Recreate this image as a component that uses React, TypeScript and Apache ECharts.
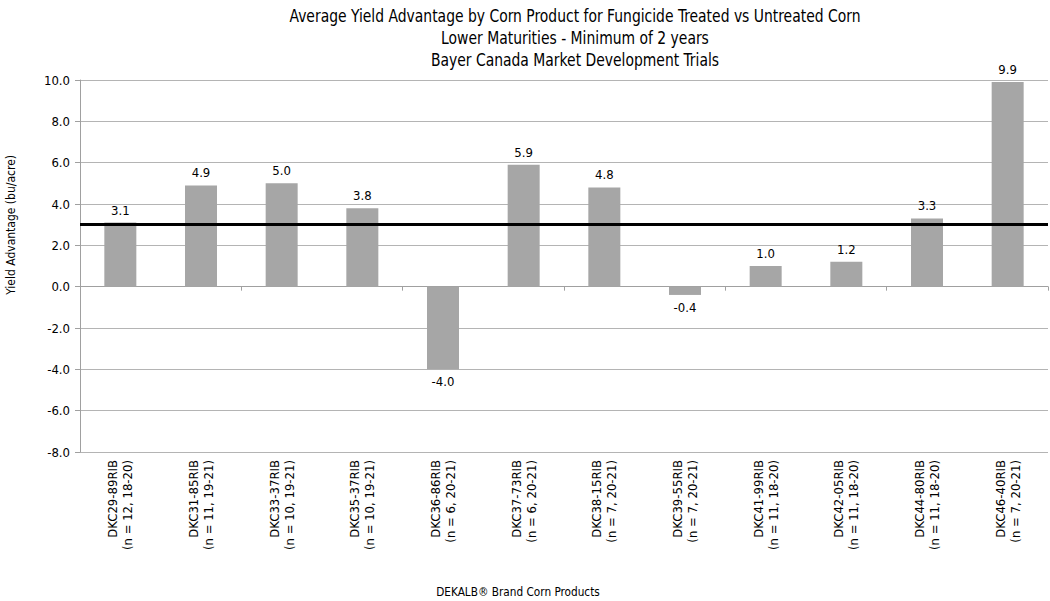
import React, { useEffect, useRef } from "react";
import * as echarts from "echarts";

const products = [
  "DKC29-89RIB\n(n = 12, 18-20)",
  "DKC31-85RIB\n(n = 11, 19-21)",
  "DKC33-37RIB\n(n = 10, 19-21)",
  "DKC35-37RIB\n(n = 10, 19-21)",
  "DKC36-86RIB\n(n = 6, 20-21)",
  "DKC37-73RIB\n(n = 6, 20-21)",
  "DKC38-15RIB\n(n = 7, 20-21)",
  "DKC39-55RIB\n(n = 7, 20-21)",
  "DKC41-99RIB\n(n = 11, 18-20)",
  "DKC42-05RIB\n(n = 11, 18-20)",
  "DKC44-80RIB\n(n = 11, 18-20)",
  "DKC46-40RIB\n(n = 7, 20-21)",
];
const yieldAdvantage = [3.1, 4.9, 5.0, 3.8, -4.0, 5.9, 4.8, -0.4, 1.0, 1.2, 3.3, 9.9];
const referenceValue = 3.0;
const titleLines = [
  "Average Yield Advantage by Corn Product for Fungicide Treated vs Untreated Corn",
  "Lower Maturities - Minimum of 2 years",
  "Bayer Canada Market Development Trials",
];
const yAxisTitle = "Yield Advantage (bu/acre)";
const xAxisTitle = "DEKALB® Brand Corn Products";

const FONT = "'Liberation Sans Narrow', 'DejaVu Sans Condensed', 'Roboto', sans-serif";

export default function App() {
  const ref = useRef<HTMLDivElement>(null);
  useEffect(() => {
    if (!ref.current) return;
    const chart = echarts.init(ref.current, undefined, { renderer: "svg" });
    chart.setOption({
      animation: false,
      backgroundColor: "#ffffff",
      textStyle: { fontFamily: FONT, color: "#000" },
      grid: { left: 80, right: 2, top: 80, bottom: 149, containLabel: false },
      xAxis: [
        {
          type: "category",
          data: products,
          position: "bottom",
          axisLine: { onZero: true, lineStyle: { color: "#a0a0a0", width: 1 } },
          axisTick: { show: true, length: 4, lineStyle: { color: "#a0a0a0" } },
          axisLabel: { show: false },
          splitLine: { show: false },
        },
        {
          type: "category",
          data: products,
          position: "bottom",
          offset: 0,
          axisLine: { show: false, onZero: false },
          axisTick: { show: false },
          axisLabel: {
            rotate: 90,
            interval: 0,
            margin: 8,
            fontFamily: FONT,
            fontSize: 13,
            lineHeight: 15,
            color: "#000",
          },
        },
      ],
      yAxis: {
        type: "value",
        min: -8,
        max: 10,
        interval: 2,
        axisLine: { show: true, lineStyle: { color: "#a0a0a0" } },
        axisTick: { show: true, inside: false, length: 5, lineStyle: { color: "#a0a0a0" } },
        axisLabel: {
          formatter: (v: number) => v.toFixed(1),
          fontFamily: FONT,
          fontSize: 13,
          color: "#000",
          margin: 10,
        },
        splitLine: { show: true, lineStyle: { color: "#b4b4b4", width: 1 } },
      },
      series: [
        {
          type: "bar",
          xAxisIndex: 0,
          data: yieldAdvantage.map((v) => ({
            value: v,
            label: { position: v < 0 ? "bottom" : "top" },
          })),
          barWidth: 32,
          itemStyle: { color: "#a6a6a6" },
          label: {
            show: true,
            formatter: (p: any) => Number(p.value).toFixed(1),
            fontFamily: FONT,
            fontSize: 13,
            color: "#000",
            distance: 6,
          },
          markLine: {
            silent: true,
            symbol: ["none", "none"],
            label: { show: false },
            lineStyle: { color: "#000", width: 3, type: "solid" },
            data: [{ yAxis: referenceValue }],
          },
        },
      ],
      graphic: [
        {
          type: "text",
          x: 575,
          y: 5,
          scaleX: 0.91,
          style: {
            text: titleLines.join("\n"),
            fontFamily: FONT,
            fontSize: 17,
            lineHeight: 22,
            fill: "#000",
            textAlign: "center",
          },
        },
        {
          type: "text",
          left: 5,
          top: 155,
          rotation: Math.PI / 2,
          style: { text: yAxisTitle, fontFamily: FONT, fontSize: 12, fill: "#000" },
        },
        {
          type: "text",
          x: 518,
          y: 585,
          scaleX: 0.9,
          style: {
            text: xAxisTitle,
            fontFamily: FONT,
            fontSize: 13,
            fill: "#000",
            textAlign: "center",
          },
        },
      ],
    });
    return () => chart.dispose();
  }, []);
  return <div ref={ref} style={{ width: 1050, height: 601, position: "absolute", left: 0, top: 0 }} />;
}
